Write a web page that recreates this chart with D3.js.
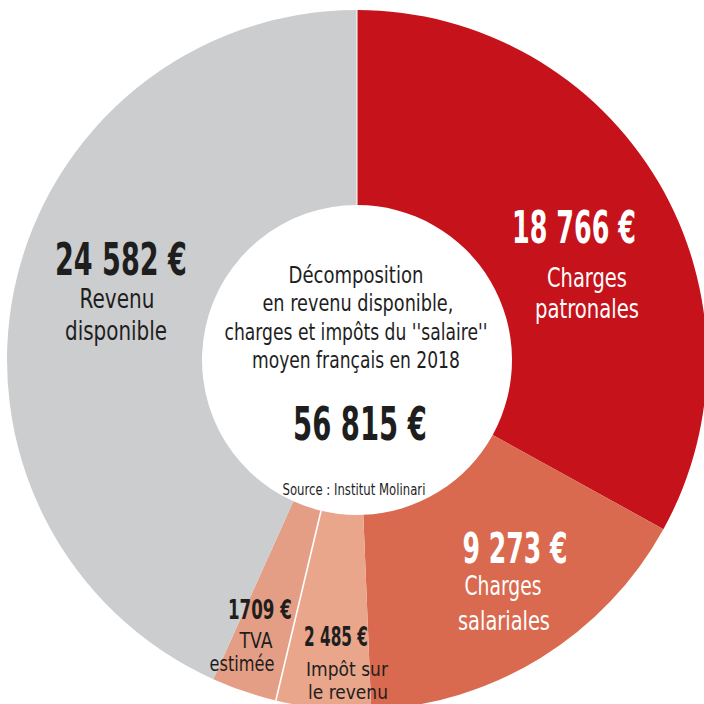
<!DOCTYPE html>
<html>
  <head>
    <meta charset="utf-8">
    <title>Décomposition du salaire moyen 2018</title>
    <script src="https://d3js.org/d3.v7.min.js"></script>
    <style>
    body { margin: 0; background: #fff; }
    svg text { font-family: "DejaVu Sans", "Liberation Sans", sans-serif; }
    .amount { font-weight: bold; }
    </style>
  </head>
  <body>
    <script>
      // ====================================
      // Données (source : Institut Molinari)
      // ====================================
      const categories = ["Charges patronales", "Charges salariales", "Impôt sur le revenu", "TVA estimée", "Revenu disponible"];
      const values = [18766, 9273, 2485, 1709, 24582];
      const amountLabels = ["18 766 €", "9 273 €", "2 485 €", "1709 €", "24 582 €"];
      const nameLines = [["Charges", "patronales"], ["Charges", "salariales"], ["Impôt sur", "le revenu"], ["TVA", "estimée"], ["Revenu", "disponible"]];
      const colors = ["#c5121b", "#d96a4f", "#e9a68b", "#e49e85", "#cccdcf"];
      const totalLabel = "56 815 €";
      const titleLines = ["Décomposition", "en revenu disponible,", "charges et impôts du ''salaire''", "moyen français en 2018"];
      const sourceLabel = "Source : Institut Molinari";

      const width = 704;
      const height = 704;
      const cx = 357, cy = 360;
      const outerR = 350, innerR = 155;

      // label layout (page coords): [centre x, baseline y, width, size]
      // the reference uses a condensed face, so each text is squeezed to its measured width
      const labelLayout = [
        { amt: [574, 243, 124, 44], names: [[587, 287, 80], [587, 318, 104]], ns: 26, fill: "#fff" },
        { amt: [515, 563, 105, 42], names: [[503, 595, 77], [504, 630, 92]], ns: 26, fill: "#fff" },
        { amt: [336, 646, 64, 27], names: [[347, 676, 82], [348, 699, 80]], ns: 20, fill: "#1e1e1e" },
        { amt: [260, 619, 64, 27], names: [[256, 648, 33], [242, 671, 65]], ns: 21, fill: "#1e1e1e" },
        { amt: [121, 275, 132, 44], names: [[117, 308, 75], [116, 340, 102]], ns: 26, fill: "#1e1e1e" }
      ];
      const titleLayout = [[356, 283, 135], [358, 311, 191], [356, 340, 263], [356, 368, 208]];

      const svg = d3.select("body")
        .append("svg")
          .attr("width", width)
          .attr("height", height);

      const g = svg.append("g")
          .attr("transform", "translate(" + cx + "," + cy + ")");

      const pie = d3.pie()
          .sort(null)
          .value(function(d) { return d; });

      const arc = d3.arc()
          .innerRadius(innerR)
          .outerRadius(outerR);

      const slices = pie(values);

      g.selectAll("path.slice")
        .data(slices)
        .enter()
        .append("path")
          .attr("class", "slice")
          .attr("d", arc)
          .attr("fill", function(d, i) { return colors[i]; });

      // thin white separators (top, and between impôt and TVA)
      [slices[0].startAngle, slices[3].startAngle].forEach(function(a, k) {
        g.append("line")
          .attr("x1", Math.sin(a) * innerR)
          .attr("y1", -Math.cos(a) * innerR)
          .attr("x2", Math.sin(a) * outerR)
          .attr("y2", -Math.cos(a) * outerR)
          .attr("stroke", "#fff")
          .attr("stroke-width", k === 0 ? 1 : 1.6);
      });

      // text squeezed horizontally to a given width (stand-in for a condensed font)
      function squeezed(x, y, w, size, txt, fill, cls) {
        const t = svg.append("text")
          .attr("class", cls || null)
          .attr("x", 0)
          .attr("y", 0)
          .attr("font-size", size)
          .attr("fill", fill)
          .text(txt);
        const len = t.node().getComputedTextLength();
        t.attr("transform", "translate(" + (x - w / 2) + "," + y + ") scale(" + (w / len) + ",1)");
        return t;
      }

      // slice labels
      slices.forEach(function(d, i) {
        const L = labelLayout[i];
        squeezed(L.amt[0], L.amt[1], L.amt[2], L.amt[3], amountLabels[i], L.fill, "amount");
        nameLines[i].forEach(function(line, j) {
          const p = L.names[j];
          squeezed(p[0], p[1], p[2], L.ns, line, L.fill);
        });
      });

      // centre text
      titleLines.forEach(function(line, j) {
        const p = titleLayout[j];
        squeezed(p[0], p[1], p[2], 23, line, "#1e1e1e");
      });

      squeezed(360, 440, 134, 46, totalLabel, "#1e1e1e", "amount");
      squeezed(354, 495, 143, 15, sourceLabel, "#1e1e1e");
    </script>
  </body>
</html>
